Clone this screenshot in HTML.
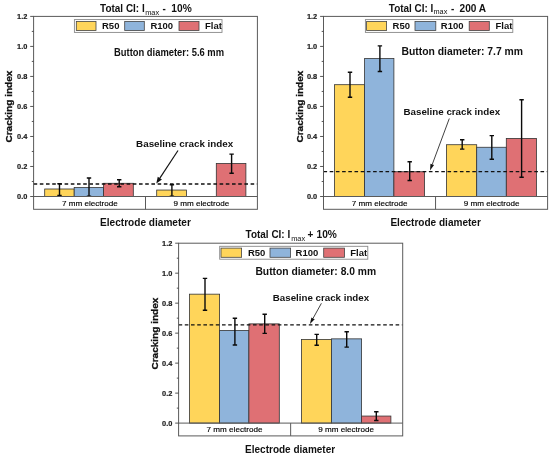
<!DOCTYPE html>
<html><head><meta charset="utf-8"><title>Cracking index charts</title>
<style>html,body{margin:0;padding:0;background:#fff}svg{display:block;font-family:"Liberation Sans",Arial,sans-serif;filter:blur(0.35px)}</style>
</head><body>
<svg width="550" height="457" viewBox="0 0 550 457">
<rect width="550" height="457" fill="#fff"/>
<rect x="44.7" y="189" width="29.5" height="7.5" fill="#FFD55A" stroke="#333" stroke-width="0.8"/>
<rect x="74.2" y="187.5" width="29.4" height="9" fill="#8FB4DB" stroke="#333" stroke-width="0.8"/>
<rect x="103.6" y="183.29" width="29.7" height="13.21" fill="#DF7074" stroke="#333" stroke-width="0.8"/>
<rect x="156.7" y="190.05" width="29.7" height="6.45" fill="#FFD55A" stroke="#333" stroke-width="0.8"/>
<rect x="216.3" y="163.48" width="29.6" height="33.02" fill="#DF7074" stroke="#333" stroke-width="0.8"/>
<line x1="33.6" y1="184" x2="257.4" y2="184" stroke="#111" stroke-width="1.3" stroke-dasharray="3.6 2.6"/>
<path d="M59.5 183.7V195.5M57.3 183.7h4.4M57.3 195.5h4.4" stroke="#0a0a0a" stroke-width="1.4" fill="none"/>
<path d="M89 178V196.3M86.8 178h4.4M86.8 196.3h4.4" stroke="#0a0a0a" stroke-width="1.4" fill="none"/>
<path d="M119.2 179.7V186.8M117 179.7h4.4M117 186.8h4.4" stroke="#0a0a0a" stroke-width="1.4" fill="none"/>
<path d="M171.9 184.7V196.2M169.7 184.7h4.4M169.7 196.2h4.4" stroke="#0a0a0a" stroke-width="1.4" fill="none"/>
<path d="M231.6 154.1V173.2M229.4 154.1h4.4M229.4 173.2h4.4" stroke="#0a0a0a" stroke-width="1.4" fill="none"/>
<rect x="33.6" y="16.4" width="223.8" height="192.9" fill="none" stroke="#5a5a5a" stroke-width="1"/>
<line x1="33.6" y1="196.5" x2="257.4" y2="196.5" stroke="#5a5a5a" stroke-width="1"/>
<line x1="145.5" y1="196.5" x2="145.5" y2="209.3" stroke="#5a5a5a" stroke-width="1"/>
<path d="M33.6 196.5h-3.4M33.6 181.49h-1.8M33.6 166.48h-3.4M33.6 151.47h-1.8M33.6 136.47h-3.4M33.6 121.46h-1.8M33.6 106.45h-3.4M33.6 91.44h-1.8M33.6 76.43h-3.4M33.6 61.42h-1.8M33.6 46.42h-3.4M33.6 31.41h-1.8M33.6 16.4h-3.4" stroke="#444" stroke-width="0.9" fill="none"/>
<text transform="translate(27.3 199.25) scale(0.94 1)" font-size="7.87" font-weight="bold" text-anchor="end" fill="#1a1a1a" stroke="#1a1a1a" stroke-width="0.2">0.0</text>
<text transform="translate(27.3 169.23) scale(0.94 1)" font-size="7.87" font-weight="bold" text-anchor="end" fill="#1a1a1a" stroke="#1a1a1a" stroke-width="0.2">0.2</text>
<text transform="translate(27.3 139.22) scale(0.94 1)" font-size="7.87" font-weight="bold" text-anchor="end" fill="#1a1a1a" stroke="#1a1a1a" stroke-width="0.2">0.4</text>
<text transform="translate(27.3 109.2) scale(0.94 1)" font-size="7.87" font-weight="bold" text-anchor="end" fill="#1a1a1a" stroke="#1a1a1a" stroke-width="0.2">0.6</text>
<text transform="translate(27.3 79.18) scale(0.94 1)" font-size="7.87" font-weight="bold" text-anchor="end" fill="#1a1a1a" stroke="#1a1a1a" stroke-width="0.2">0.8</text>
<text transform="translate(27.3 49.17) scale(0.94 1)" font-size="7.87" font-weight="bold" text-anchor="end" fill="#1a1a1a" stroke="#1a1a1a" stroke-width="0.2">1.0</text>
<text transform="translate(27.3 19.15) scale(0.94 1)" font-size="7.87" font-weight="bold" text-anchor="end" fill="#1a1a1a" stroke="#1a1a1a" stroke-width="0.2">1.2</text>
<text transform="translate(89.9 205.8)" font-size="8.1" text-anchor="middle" fill="#000" stroke="#000" stroke-width="0.15">7 mm electrode</text>
<text transform="translate(201.4 205.8)" font-size="8.1" text-anchor="middle" fill="#000" stroke="#000" stroke-width="0.15">9 mm electrode</text>
<text transform="translate(12.3 106.6) rotate(-90) scale(1.05 1)" font-size="9.55" font-weight="bold" text-anchor="middle" fill="#111" stroke="#111" stroke-width="0.3">Cracking index</text>
<text transform="translate(100 226)" font-size="10.1" font-weight="bold" fill="#111">Electrode diameter</text>
<rect x="74.4" y="19.6" width="147.6" height="12.8" fill="#fff" stroke="#888" stroke-width="0.9"/>
<rect x="76.3" y="21.4" width="19.7" height="9.1" fill="#FFD55A" stroke="#444" stroke-width="0.8"/>
<text transform="translate(102 29.1)" font-size="9.5" font-weight="bold" fill="#111">R50</text>
<rect x="124.7" y="21.4" width="19.6" height="9.1" fill="#8FB4DB" stroke="#444" stroke-width="0.8"/>
<text transform="translate(150.4 29.1)" font-size="9.5" font-weight="bold" fill="#111">R100</text>
<rect x="179" y="21.4" width="20" height="9.1" fill="#DF7074" stroke="#444" stroke-width="0.8"/>
<text transform="translate(205 29.1)" font-size="9.5" font-weight="bold" fill="#111">Flat</text>
<text transform="translate(100.1 11.8) scale(0.94 1)" font-size="10.59" font-weight="bold" fill="#111">Total CI: I</text>
<text transform="translate(145.2 14.5) scale(0.94 1)" font-size="7.87" fill="#111">max</text>
<text transform="translate(162.5 11.8) scale(0.94 1)" font-size="10.59" font-weight="bold" fill="#111">-</text>
<text transform="translate(171.3 11.8) scale(0.94 1)" font-size="10.85" font-weight="bold" fill="#111">10%</text>
<text transform="translate(114 55.7) scale(0.94 1)" font-size="10" font-weight="bold" fill="#111">Button diameter: 5.6 mm</text>
<text transform="translate(136.1 146.6)" font-size="9.82" font-weight="bold" fill="#111">Baseline crack index</text>
<line x1="178" y1="150.5" x2="159.86" y2="178.16" stroke="#111" stroke-width="1.15"/>
<polygon points="156.3,183.6 157.77,176.79 161.95,179.53" fill="#111"/>
<rect x="334.5" y="84.69" width="30.1" height="111.81" fill="#FFD55A" stroke="#333" stroke-width="0.8"/>
<rect x="364.6" y="58.57" width="29.3" height="137.93" fill="#8FB4DB" stroke="#333" stroke-width="0.8"/>
<rect x="393.9" y="171.74" width="30.6" height="24.76" fill="#DF7074" stroke="#333" stroke-width="0.8"/>
<rect x="446.4" y="144.72" width="30.3" height="51.78" fill="#FFD55A" stroke="#333" stroke-width="0.8"/>
<rect x="476.7" y="147.27" width="29.6" height="49.23" fill="#8FB4DB" stroke="#333" stroke-width="0.8"/>
<rect x="506.3" y="138.42" width="30.1" height="58.08" fill="#DF7074" stroke="#333" stroke-width="0.8"/>
<line x1="323.5" y1="171.7" x2="547.6" y2="171.7" stroke="#111" stroke-width="1.3" stroke-dasharray="3.6 2.6"/>
<path d="M350 72.3V97.3M347.8 72.3h4.4M347.8 97.3h4.4" stroke="#0a0a0a" stroke-width="1.4" fill="none"/>
<path d="M379.9 45.9V71.5M377.7 45.9h4.4M377.7 71.5h4.4" stroke="#0a0a0a" stroke-width="1.4" fill="none"/>
<path d="M409.7 161.7V180.5M407.5 161.7h4.4M407.5 180.5h4.4" stroke="#0a0a0a" stroke-width="1.4" fill="none"/>
<path d="M462.2 139.8V149.1M460 139.8h4.4M460 149.1h4.4" stroke="#0a0a0a" stroke-width="1.4" fill="none"/>
<path d="M491.8 135.6V159.2M489.6 135.6h4.4M489.6 159.2h4.4" stroke="#0a0a0a" stroke-width="1.4" fill="none"/>
<path d="M521.6 99.8V177.2M519.4 99.8h4.4M519.4 177.2h4.4" stroke="#0a0a0a" stroke-width="1.4" fill="none"/>
<rect x="323.5" y="16.4" width="224.1" height="192.9" fill="none" stroke="#5a5a5a" stroke-width="1"/>
<line x1="323.5" y1="196.5" x2="547.6" y2="196.5" stroke="#5a5a5a" stroke-width="1"/>
<line x1="435.55" y1="196.5" x2="435.55" y2="209.3" stroke="#5a5a5a" stroke-width="1"/>
<path d="M323.5 196.5h-3.4M323.5 181.49h-1.8M323.5 166.48h-3.4M323.5 151.47h-1.8M323.5 136.47h-3.4M323.5 121.46h-1.8M323.5 106.45h-3.4M323.5 91.44h-1.8M323.5 76.43h-3.4M323.5 61.42h-1.8M323.5 46.42h-3.4M323.5 31.41h-1.8M323.5 16.4h-3.4" stroke="#444" stroke-width="0.9" fill="none"/>
<text transform="translate(317.2 199.25) scale(0.94 1)" font-size="7.87" font-weight="bold" text-anchor="end" fill="#1a1a1a" stroke="#1a1a1a" stroke-width="0.2">0.0</text>
<text transform="translate(317.2 169.23) scale(0.94 1)" font-size="7.87" font-weight="bold" text-anchor="end" fill="#1a1a1a" stroke="#1a1a1a" stroke-width="0.2">0.2</text>
<text transform="translate(317.2 139.22) scale(0.94 1)" font-size="7.87" font-weight="bold" text-anchor="end" fill="#1a1a1a" stroke="#1a1a1a" stroke-width="0.2">0.4</text>
<text transform="translate(317.2 109.2) scale(0.94 1)" font-size="7.87" font-weight="bold" text-anchor="end" fill="#1a1a1a" stroke="#1a1a1a" stroke-width="0.2">0.6</text>
<text transform="translate(317.2 79.18) scale(0.94 1)" font-size="7.87" font-weight="bold" text-anchor="end" fill="#1a1a1a" stroke="#1a1a1a" stroke-width="0.2">0.8</text>
<text transform="translate(317.2 49.17) scale(0.94 1)" font-size="7.87" font-weight="bold" text-anchor="end" fill="#1a1a1a" stroke="#1a1a1a" stroke-width="0.2">1.0</text>
<text transform="translate(317.2 19.15) scale(0.94 1)" font-size="7.87" font-weight="bold" text-anchor="end" fill="#1a1a1a" stroke="#1a1a1a" stroke-width="0.2">1.2</text>
<text transform="translate(379.6 205.8)" font-size="8.1" text-anchor="middle" fill="#000" stroke="#000" stroke-width="0.15">7 mm electrode</text>
<text transform="translate(491.6 205.8)" font-size="8.1" text-anchor="middle" fill="#000" stroke="#000" stroke-width="0.15">9 mm electrode</text>
<text transform="translate(302.5 106.6) rotate(-90) scale(1.05 1)" font-size="9.55" font-weight="bold" text-anchor="middle" fill="#111" stroke="#111" stroke-width="0.3">Cracking index</text>
<text transform="translate(390.4 226)" font-size="10.05" font-weight="bold" fill="#111">Electrode diameter</text>
<rect x="365.4" y="19.6" width="147.4" height="12.8" fill="#fff" stroke="#888" stroke-width="0.9"/>
<rect x="366.6" y="21.4" width="20" height="9.1" fill="#FFD55A" stroke="#444" stroke-width="0.8"/>
<text transform="translate(392.6 29.1)" font-size="9.5" font-weight="bold" fill="#111">R50</text>
<rect x="415" y="21.4" width="20.8" height="9.1" fill="#8FB4DB" stroke="#444" stroke-width="0.8"/>
<text transform="translate(440.8 29.1)" font-size="9.5" font-weight="bold" fill="#111">R100</text>
<rect x="469.2" y="21.4" width="20.1" height="9.1" fill="#DF7074" stroke="#444" stroke-width="0.8"/>
<text transform="translate(495.5 29.1)" font-size="9.5" font-weight="bold" fill="#111">Flat</text>
<text transform="translate(388.8 11.8) scale(0.94 1)" font-size="10.59" font-weight="bold" fill="#111">Total CI: I</text>
<text transform="translate(433.5 14.4) scale(0.94 1)" font-size="7.77" fill="#111">max</text>
<text transform="translate(451 11.8) scale(0.94 1)" font-size="10.59" font-weight="bold" fill="#111">-</text>
<text transform="translate(459.6 11.8) scale(0.94 1)" font-size="10.74" font-weight="bold" fill="#111">200 A</text>
<text transform="translate(401.5 54.7) scale(1.03 1)" font-size="10.08" font-weight="bold" fill="#111">Button diameter: 7.7 mm</text>
<text transform="translate(403.5 115.2)" font-size="9.78" font-weight="bold" fill="#111">Baseline crack index</text>
<line x1="449.3" y1="118.5" x2="432.26" y2="164.41" stroke="#111" stroke-width="0.8"/>
<polygon points="430,170.5 430.48,163.75 434.04,165.07" fill="#111"/>
<rect x="189.5" y="294.17" width="30.1" height="128.93" fill="#FFD55A" stroke="#333" stroke-width="0.8"/>
<rect x="219.6" y="330.45" width="29.3" height="92.65" fill="#8FB4DB" stroke="#333" stroke-width="0.8"/>
<rect x="248.9" y="323.86" width="30.4" height="99.24" fill="#DF7074" stroke="#333" stroke-width="0.8"/>
<rect x="301.5" y="339.45" width="29.9" height="83.65" fill="#FFD55A" stroke="#333" stroke-width="0.8"/>
<rect x="331.4" y="338.85" width="30.2" height="84.25" fill="#8FB4DB" stroke="#333" stroke-width="0.8"/>
<rect x="361.6" y="416.05" width="29.3" height="7.05" fill="#DF7074" stroke="#333" stroke-width="0.8"/>
<line x1="178.6" y1="324.8" x2="402.7" y2="324.8" stroke="#111" stroke-width="1.3" stroke-dasharray="3.6 2.6"/>
<path d="M205 278.4V310.3M202.8 278.4h4.4M202.8 310.3h4.4" stroke="#0a0a0a" stroke-width="1.4" fill="none"/>
<path d="M234.9 318.3V345M232.7 318.3h4.4M232.7 345h4.4" stroke="#0a0a0a" stroke-width="1.4" fill="none"/>
<path d="M264.7 314.3V333.4M262.5 314.3h4.4M262.5 333.4h4.4" stroke="#0a0a0a" stroke-width="1.4" fill="none"/>
<path d="M316.7 334.4V345.3M314.5 334.4h4.4M314.5 345.3h4.4" stroke="#0a0a0a" stroke-width="1.4" fill="none"/>
<path d="M346.7 331.7V347.1M344.5 331.7h4.4M344.5 347.1h4.4" stroke="#0a0a0a" stroke-width="1.4" fill="none"/>
<path d="M376.3 411.7V420.5M374.1 411.7h4.4M374.1 420.5h4.4" stroke="#0a0a0a" stroke-width="1.4" fill="none"/>
<rect x="178.6" y="243.2" width="224.1" height="192.7" fill="none" stroke="#5a5a5a" stroke-width="1"/>
<line x1="178.6" y1="423.1" x2="402.7" y2="423.1" stroke="#5a5a5a" stroke-width="1"/>
<line x1="290.65" y1="423.1" x2="290.65" y2="435.9" stroke="#5a5a5a" stroke-width="1"/>
<path d="M178.6 423.1h-3.4M178.6 408.11h-1.8M178.6 393.12h-3.4M178.6 378.12h-1.8M178.6 363.13h-3.4M178.6 348.14h-1.8M178.6 333.15h-3.4M178.6 318.16h-1.8M178.6 303.17h-3.4M178.6 288.17h-1.8M178.6 273.18h-3.4M178.6 258.19h-1.8M178.6 243.2h-3.4" stroke="#444" stroke-width="0.9" fill="none"/>
<text transform="translate(172.3 425.85) scale(0.94 1)" font-size="7.87" font-weight="bold" text-anchor="end" fill="#1a1a1a" stroke="#1a1a1a" stroke-width="0.2">0.0</text>
<text transform="translate(172.3 395.87) scale(0.94 1)" font-size="7.87" font-weight="bold" text-anchor="end" fill="#1a1a1a" stroke="#1a1a1a" stroke-width="0.2">0.2</text>
<text transform="translate(172.3 365.88) scale(0.94 1)" font-size="7.87" font-weight="bold" text-anchor="end" fill="#1a1a1a" stroke="#1a1a1a" stroke-width="0.2">0.4</text>
<text transform="translate(172.3 335.9) scale(0.94 1)" font-size="7.87" font-weight="bold" text-anchor="end" fill="#1a1a1a" stroke="#1a1a1a" stroke-width="0.2">0.6</text>
<text transform="translate(172.3 305.92) scale(0.94 1)" font-size="7.87" font-weight="bold" text-anchor="end" fill="#1a1a1a" stroke="#1a1a1a" stroke-width="0.2">0.8</text>
<text transform="translate(172.3 275.93) scale(0.94 1)" font-size="7.87" font-weight="bold" text-anchor="end" fill="#1a1a1a" stroke="#1a1a1a" stroke-width="0.2">1.0</text>
<text transform="translate(172.3 245.95) scale(0.94 1)" font-size="7.87" font-weight="bold" text-anchor="end" fill="#1a1a1a" stroke="#1a1a1a" stroke-width="0.2">1.2</text>
<text transform="translate(234.5 432.4)" font-size="8.1" text-anchor="middle" fill="#000" stroke="#000" stroke-width="0.15">7 mm electrode</text>
<text transform="translate(346.1 432.4)" font-size="8.1" text-anchor="middle" fill="#000" stroke="#000" stroke-width="0.15">9 mm electrode</text>
<text transform="translate(157.5 333.6) rotate(-90) scale(1.05 1)" font-size="9.55" font-weight="bold" text-anchor="middle" fill="#111" stroke="#111" stroke-width="0.3">Cracking index</text>
<text transform="translate(245.1 452.7)" font-size="10" font-weight="bold" fill="#111">Electrode diameter</text>
<rect x="219.7" y="246.3" width="148.1" height="12.9" fill="#fff" stroke="#888" stroke-width="0.9"/>
<rect x="221" y="248.1" width="20.6" height="9.2" fill="#FFD55A" stroke="#444" stroke-width="0.8"/>
<text transform="translate(247.9 255.8)" font-size="9.5" font-weight="bold" fill="#111">R50</text>
<rect x="270" y="248.1" width="20.6" height="9.2" fill="#8FB4DB" stroke="#444" stroke-width="0.8"/>
<text transform="translate(295.6 255.8)" font-size="9.5" font-weight="bold" fill="#111">R100</text>
<rect x="323.7" y="248.1" width="20.8" height="9.2" fill="#DF7074" stroke="#444" stroke-width="0.8"/>
<text transform="translate(350.3 255.8)" font-size="9.5" font-weight="bold" fill="#111">Flat</text>
<text transform="translate(245.6 237.9) scale(0.94 1)" font-size="10.59" font-weight="bold" fill="#111">Total CI: I</text>
<text transform="translate(291.2 241.4) scale(0.94 1)" font-size="7.87" fill="#111">max</text>
<text transform="translate(307.6 237.9) scale(0.94 1)" font-size="10.59" font-weight="bold" fill="#111">+</text>
<text transform="translate(316.5 237.9) scale(0.94 1)" font-size="10.85" font-weight="bold" fill="#111">10%</text>
<text transform="translate(255.4 274.9)" font-size="10.3" font-weight="bold" fill="#111">Button diameter: 8.0 mm</text>
<text transform="translate(272.8 300.7) scale(1.04 1)" font-size="9.38" font-weight="bold" fill="#111">Baseline crack index</text>
<line x1="321.4" y1="303.3" x2="313.06" y2="318.32" stroke="#111" stroke-width="0.8"/>
<polygon points="309.9,324 311.4,317.4 314.72,319.24" fill="#111"/>
</svg>
</body></html>
